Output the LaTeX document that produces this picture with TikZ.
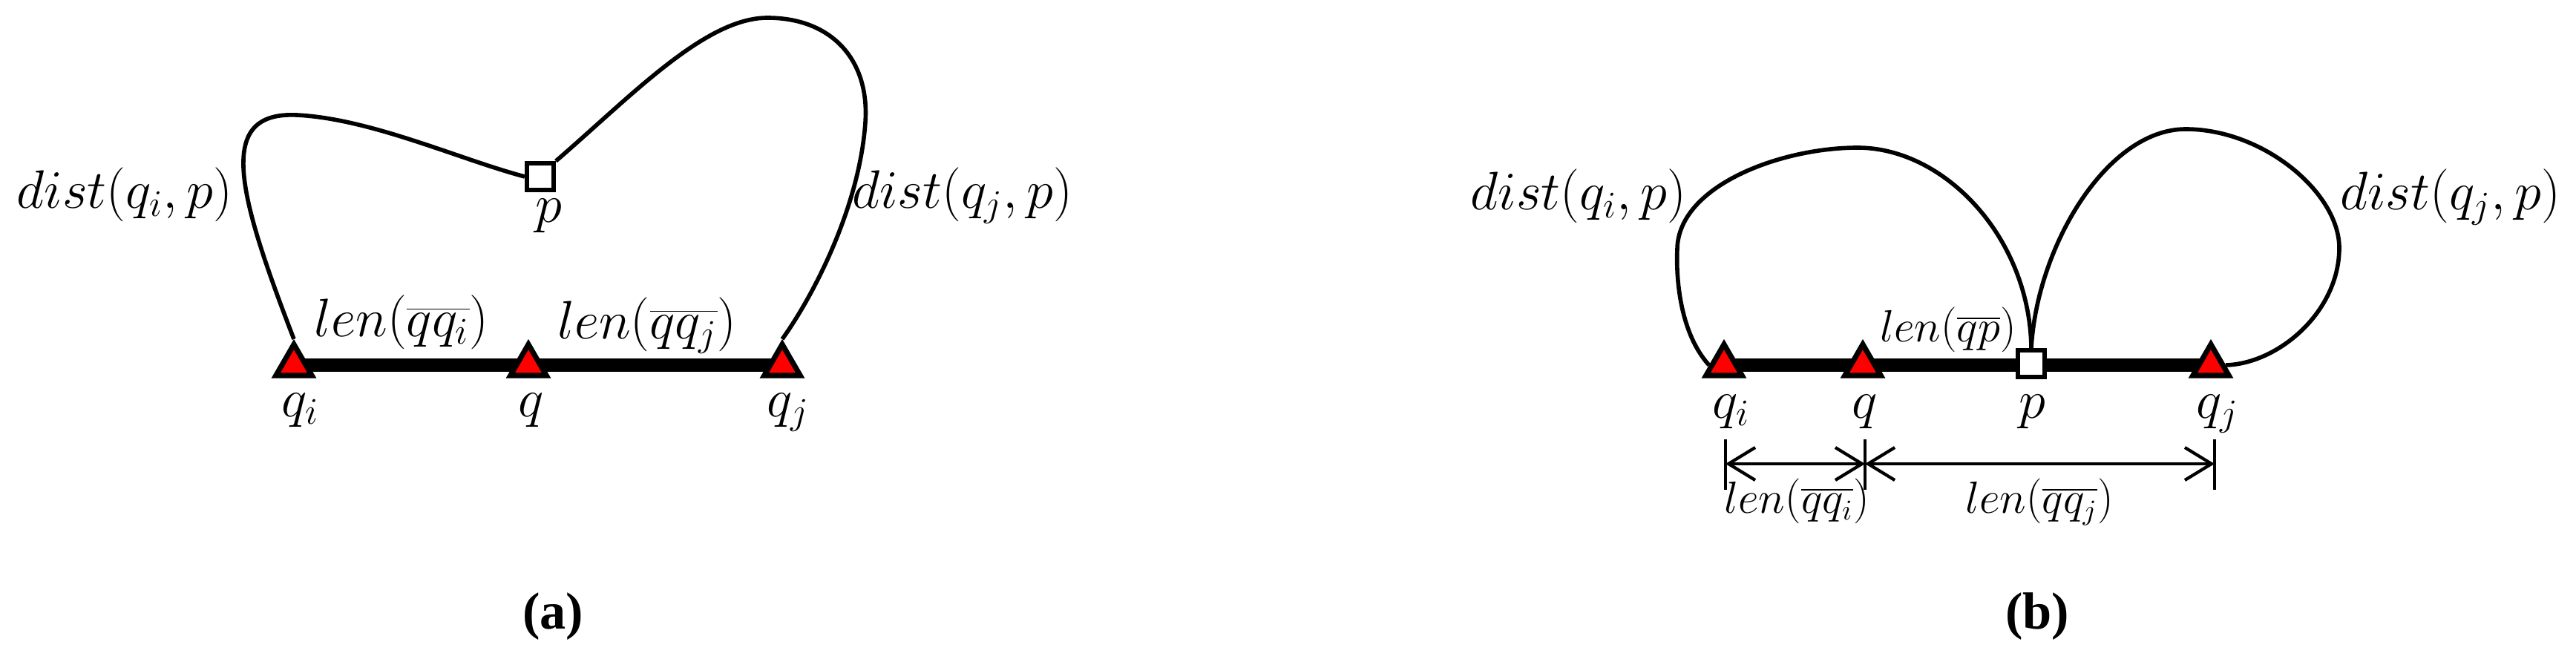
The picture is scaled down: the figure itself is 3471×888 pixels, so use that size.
\documentclass[tikz,border=0pt]{standalone}
\usepackage{fontspec}
\setmainfont{Liberation Serif}
\usetikzlibrary{shapes.geometric, arrows.meta}
\pgfdeclarelayer{background}
\pgfsetlayers{background,main}
\begin{document}
\begin{tikzpicture}[x=0.01cm, y=-0.01cm,
  lbl/.style={font=\fontsize{22}{26}\selectfont, inner sep=0pt, anchor=base},
  slbl/.style={font=\fontsize{16}{19}\selectfont, inner sep=0pt, anchor=base},
  captxt/.style={font=\fontspec{Liberation Serif Bold}\fontsize{20}{24}\selectfont, inner sep=0pt, anchor=base},
  curve/.style={line width=1.6pt},
  bar/.style={line width=5.2pt},
  tri/.style={regular polygon, regular polygon sides=3, draw=black, fill=red, line width=2pt, minimum size=0.56cm, inner sep=0pt},
  sq/.style={rectangle, draw=black, fill=white, line width=1.7pt, minimum size=0.36cm, inner sep=0pt},
  dim/.style={line width=1.2pt, {Straight Barb[length=0.36cm,width=0.44cm]}-{Straight Barb[length=0.36cm,width=0.44cm]}},
  tick/.style={line width=1pt}]
\useasboundingbox (0,0) rectangle (3471,888);

% ---------- panel (a)
\node[tri] (qia) at (396,492) {};
\node[tri] (qa) at (712,492) {};
\node[tri] (qja) at (1054,492) {};
\node[sq] (pa) at (728,238) {};

\begin{pgfonlayer}{background}
\draw[bar] (qia.center) -- (qja.center);
\draw[curve] (qia.north) .. controls (320,260) and (290,150) .. (400,155)
  .. controls (500,160) and (620,215) .. (pa.west);
\draw[curve] (pa.north east) .. controls (850,130) and (950,24) .. (1034,24)
  .. controls (1120,24) and (1172,80) .. (1166,165)
  .. controls (1158,280) and (1095,400) .. (qja.north);
\end{pgfonlayer}

\node[lbl] (lda) at (168,281) {$dist(q_i,p)$};
\node[lbl] (ldja) at (1297,281) {$dist(q_j,p)$};
\node[lbl] (llia) at (541,453) {$len{\left(\overline{qq_i}\right)}$};
\node[lbl] (llja) at (872,456) {$len{\left(\overline{qq_j}\right)}$};
\node[lbl] (lpa) at (739,300) {$p$};
\node[lbl] (lqia) at (405,561) {$q_i$};
\node[lbl] (lqa) at (716,561) {$q$};
\node[lbl] (lqja) at (1062,561) {$q_j$};
\node[captxt] (capa) at (745,847) {(a)};

% ---------- panel (b)
\node[tri] (qib) at (2323,492) {};
\node[tri] (qb) at (2510,492) {};
\node[sq] (pb) at (2737,490) {};
\node[tri] (qjb) at (2979,492) {};

\begin{pgfonlayer}{background}
\draw[bar] (qib.center) -- (qjb.center);
\draw[curve] (qib.west) .. controls (2265,450) and (2258,380) .. (2260,335)
  .. controls (2262,250) and (2400,199) .. (2503,199)
  .. controls (2620,199) and (2735,320) .. (pb.north);
\draw[curve] (pb.north) .. controls (2745,330) and (2840,174) .. (2945,174)
  .. controls (3050,174) and (3152,260) .. (3152,334)
  .. controls (3152,420) and (3070,490) .. (qjb.east);
\end{pgfonlayer}

\coordinate (k1a) at (2325,592); \coordinate (k1b) at (2325,660);
\coordinate (k2a) at (2513,592); \coordinate (k2b) at (2513,660);
\coordinate (k3a) at (2984,592); \coordinate (k3b) at (2984,660);
\coordinate (d1) at (2325,625); \coordinate (d2) at (2513,625); \coordinate (d3) at (2984,625);
\draw[tick] (k1a) -- (k1b);
\draw[tick] (k2a) -- (k2b);
\draw[tick] (k3a) -- (k3b);
\draw[dim] (d1) -- (d2);
\draw[dim] (d2) -- (d3);

\node[lbl] (ldb) at (2127,283) {$dist(q_i,p)$};
\node[lbl] (ldjb) at (3302,283) {$dist(q_j,p)$};
\node[slbl] (lqp) at (2625,460) {$len{\left(\overline{qp}\right)}$};
\node[lbl] (lqib) at (2333,563) {$q_i$};
\node[lbl] (lqb) at (2513,563) {$q$};
\node[lbl] (lpb) at (2738,563) {$p$};
\node[lbl] (lqjb) at (2988,563) {$q_j$};
\node[slbl] (llib) at (2421,691) {$len{\left(\overline{qq_i}\right)}$};
\node[slbl] (lljb) at (2748,691) {$len{\left(\overline{qq_j}\right)}$};
\node[captxt] (capb) at (2745,847) {(b)};
\end{tikzpicture}
\end{document}
